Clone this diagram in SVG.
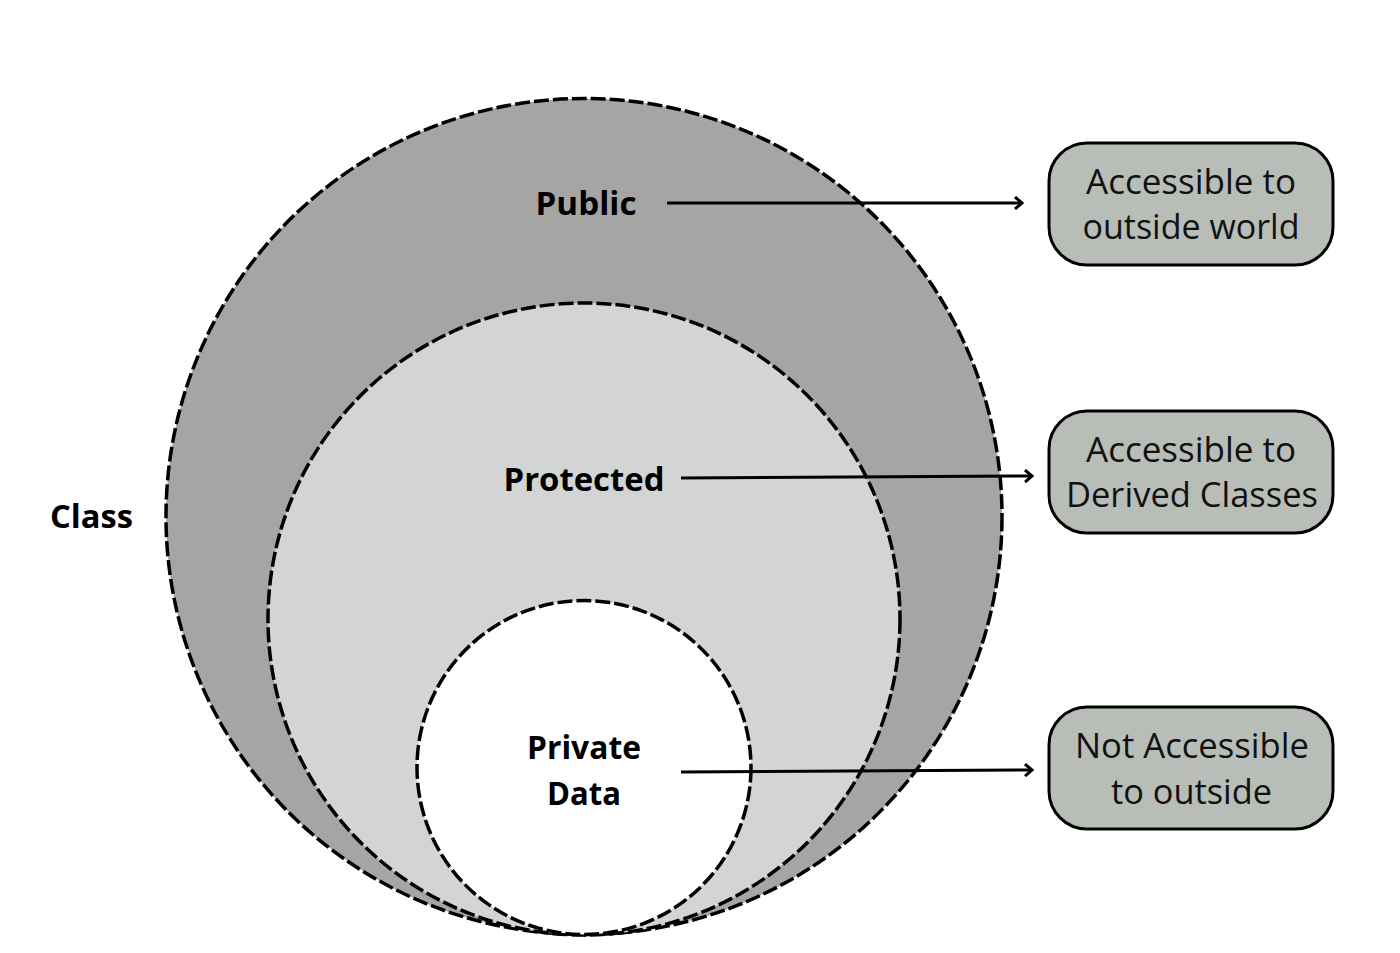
<svg xmlns="http://www.w3.org/2000/svg" width="1400" height="953" viewBox="0 0 1400 953">
<defs>
<style>
.circ{stroke:#000;stroke-width:3.5;stroke-dasharray:15 4}
.lbl{font-family:"Open Sans","Liberation Sans",sans-serif;font-weight:bold;font-size:32px;fill:#000;text-anchor:middle}
.box{fill:#b9bdb8;stroke:#000;stroke-width:3}
.btx{font-family:"Open Sans","Liberation Sans",sans-serif;font-size:34px;fill:#111;text-anchor:middle}
.conn{stroke:#000;stroke-width:3;fill:none}
</style>
<marker id="arr" markerWidth="12" markerHeight="14" refX="10" refY="7" orient="auto" markerUnits="userSpaceOnUse">
<path d="M3,1 L10,7 L3,13" fill="none" stroke="#000" stroke-width="3"/>
</marker>
</defs>
<rect width="1400" height="953" fill="#fff"/>
<g id="public-circle">
<circle class="circ" cx="584" cy="516.5" r="418" fill="#a5a5a4"/>
<text class="lbl" x="586" y="215" textLength="101" lengthAdjust="spacingAndGlyphs">Public</text>
</g>
<g id="protected-circle">
<circle class="circ" cx="584" cy="619" r="316" fill="#d3d5d4"/>
<text class="lbl" x="584" y="491" textLength="161" lengthAdjust="spacingAndGlyphs">Protected</text>
</g>
<g id="private-circle">
<circle class="circ" cx="584" cy="767.5" r="167" fill="#fff"/>
<text class="lbl" x="584" y="759" textLength="114" lengthAdjust="spacingAndGlyphs">Private</text>
<text class="lbl" x="584" y="805" textLength="74" lengthAdjust="spacingAndGlyphs">Data</text>
</g>
<g id="class-label">
<text class="lbl" x="91.5" y="528" textLength="83" lengthAdjust="spacingAndGlyphs">Class</text>
</g>
<g id="box-public">
<rect class="box" x="1049" y="143" width="284" height="122" rx="38"/>
<text class="btx" x="1191" y="194" textLength="210" lengthAdjust="spacingAndGlyphs">Accessible to</text>
<text class="btx" x="1191" y="239" textLength="217" lengthAdjust="spacingAndGlyphs">outside world</text>
</g>
<g id="box-protected">
<rect class="box" x="1049" y="411" width="284" height="122" rx="38"/>
<text class="btx" x="1191" y="462" textLength="210" lengthAdjust="spacingAndGlyphs">Accessible to</text>
<text class="btx" x="1192" y="507" textLength="252" lengthAdjust="spacingAndGlyphs">Derived Classes</text>
</g>
<g id="box-private">
<rect class="box" x="1049" y="707" width="284" height="122" rx="38"/>
<text class="btx" x="1192" y="758" textLength="234" lengthAdjust="spacingAndGlyphs">Not Accessible</text>
<text class="btx" x="1191.5" y="804" textLength="161" lengthAdjust="spacingAndGlyphs">to outside</text>
</g>
<g id="connectors">
<line class="conn" x1="667" y1="203" x2="1022" y2="203" marker-end="url(#arr)"/>
<line class="conn" x1="681" y1="478" x2="1032" y2="476" marker-end="url(#arr)"/>
<line class="conn" x1="681" y1="772" x2="1032" y2="770" marker-end="url(#arr)"/>
</g>
</svg>
